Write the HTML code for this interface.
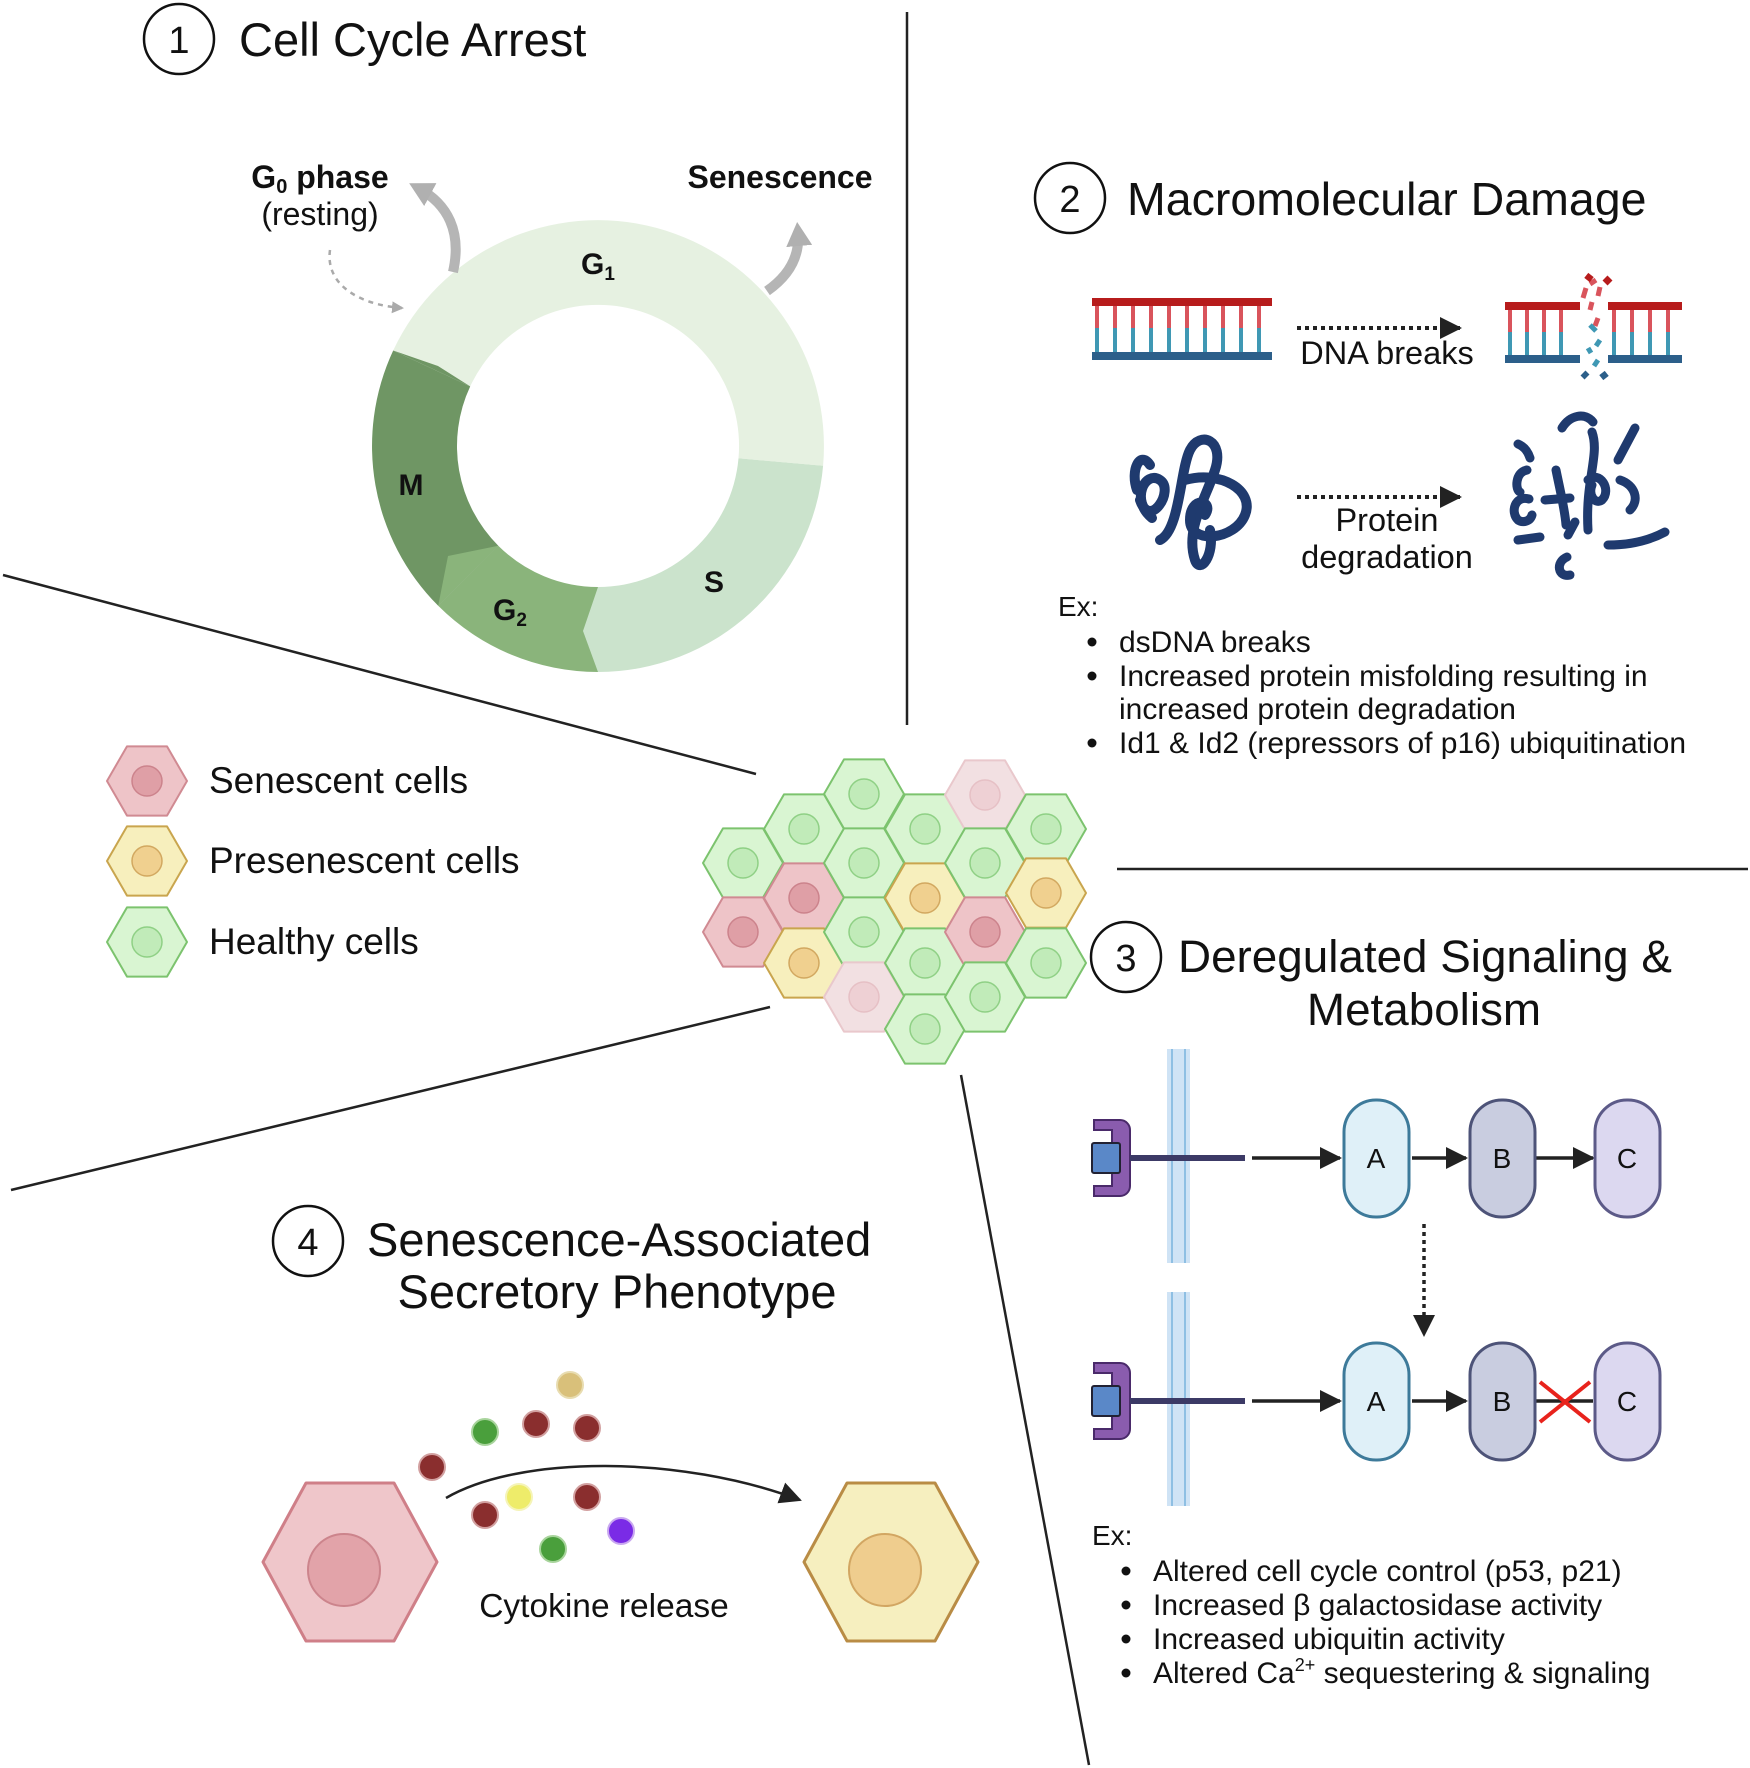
<!DOCTYPE html>
<html><head><meta charset="utf-8"><style>
html,body{margin:0;padding:0;background:#fff}
svg{display:block}
text{font-family:"Liberation Sans",Arial,sans-serif;fill:#111}
</style></head><body>
<svg width="1750" height="1768" viewBox="0 0 1750 1768" xmlns="http://www.w3.org/2000/svg">
<defs>
<polygon id="hx" points="-40,0 -20,-34.6 20,-34.6 40,0 20,34.6 -20,34.6" stroke-linejoin="round"/>
<g id="hg"><use href="#hx" fill="#d9f5d2" stroke="#7cc36e" stroke-width="2"/><circle r="15" fill="#c1ebb9" stroke="#8fd085" stroke-width="1.5"/></g>
<g id="hr"><use href="#hx" fill="#eec4c8" stroke="#d08a92" stroke-width="2"/><circle r="15" fill="#df9fa6" stroke="#cc838c" stroke-width="1.5"/></g>
<g id="hy"><use href="#hx" fill="#f7efbd" stroke="#c9a54e" stroke-width="2"/><circle r="15" fill="#f0d08f" stroke="#d2a860" stroke-width="1.5"/></g>
<g id="hf"><use href="#hx" fill="#f2e0e2" stroke="#e9c8cc" stroke-width="2"/><circle r="15" fill="#eed0d4" stroke="#e6c0c5" stroke-width="1.5"/></g>
<marker id="ab" markerWidth="22" markerHeight="22" refX="20" refY="11" orient="auto" markerUnits="userSpaceOnUse"><path d="M0,0 L22,11 L0,22z" fill="#222"/></marker>
<marker id="ag" markerWidth="26" markerHeight="26" refX="14" refY="13" orient="auto" markerUnits="userSpaceOnUse"><path d="M0,0 L24,13 L0,26z" fill="#b0b0b0"/></marker>
<marker id="ag2" markerWidth="12" markerHeight="12" refX="10" refY="6" orient="auto" markerUnits="userSpaceOnUse"><path d="M0,0 L12,6 L0,12z" fill="#aaa"/></marker>
</defs>

<g stroke="#222" stroke-width="2.5" fill="none">
<line x1="907" y1="12" x2="907" y2="725"/>
<line x1="3" y1="575" x2="756" y2="774"/>
<line x1="11" y1="1190" x2="770" y2="1007"/>
<line x1="961" y1="1075" x2="1089" y2="1765"/>
<line x1="1117" y1="869" x2="1748" y2="869"/>
</g>

<!-- Section 1 -->
<circle cx="179" cy="39" r="35" fill="none" stroke="#111" stroke-width="2.5"/>
<text x="179" y="53" font-size="38" text-anchor="middle">1</text>
<text x="239" y="56" font-size="47">Cell Cycle Arrest</text>

<g transform="translate(598,446)">
<path d="M-204.8,-95.5 A226,226 0 0 1 225.1,19.7 L140.5,12.3 A141,141 0 0 0 -127.8,-59.6 Z" fill="#e6f1e1"/>
<path d="M225.1,19.7 A226,226 0 0 1 0,226 L0,141 A141,141 0 0 0 140.5,12.3 Z" fill="#cbe3cc"/>
<path d="M0,226 A226,226 0 0 1 -159.8,159.8 L-99.7,99.7 A141,141 0 0 0 0,141 Z" fill="#8ab47b"/>
<path d="M-159.8,159.8 A226,226 0 0 1 -204.8,-95.5 L-127.8,-59.6 A141,141 0 0 0 -99.7,99.7 Z" fill="#6f9664"/>
<path d="M140.5,12.3 L190,0 L225.1,19.7 Z" fill="#e6f1e1"/>
<path d="M0,141 L-15,185 L0,226 Z" fill="#cbe3cc"/>
<path d="M-99.7,99.7 L-150,110 L-159.8,159.8 Z" fill="#8ab47b"/>
<path d="M-127.8,-59.6 L-160,-80 L-204.8,-95.5 Z" fill="#6f9664"/>
</g>
<text x="598" y="274" font-size="30" font-weight="bold" text-anchor="middle">G<tspan font-size="19" dy="6">1</tspan></text>
<text x="714" y="592" font-size="30" font-weight="bold" text-anchor="middle">S</text>
<text x="510" y="620" font-size="30" font-weight="bold" text-anchor="middle">G<tspan font-size="19" dy="6">2</tspan></text>
<text x="411" y="495" font-size="30" font-weight="bold" text-anchor="middle">M</text>

<text x="320" y="188" font-size="32" font-weight="bold" text-anchor="middle">G<tspan font-size="20" dy="5">0</tspan><tspan dy="-5"> phase</tspan></text>
<text x="320" y="225" font-size="32" text-anchor="middle">(resting)</text>
<text x="780" y="188" font-size="32" font-weight="bold" text-anchor="middle">Senescence</text>
<path d="M453,272 C462,232 448,204 418,188" fill="none" stroke="#b5b5b5" stroke-width="10" marker-end="url(#ag)"/>
<path d="M767,291 C790,275 800,255 798,232" fill="none" stroke="#b5b5b5" stroke-width="10" marker-end="url(#ag)"/>
<path d="M330,250 C325,285 360,305 402,308" fill="none" stroke="#aaa" stroke-width="2.5" stroke-dasharray="5,5" marker-end="url(#ag2)"/>

<!-- Legend -->
<use href="#hr" x="147" y="781"/>
<use href="#hy" x="147" y="861"/>
<use href="#hg" x="147" y="942"/>
<text x="209" y="793" font-size="37">Senescent cells</text>
<text x="209" y="873" font-size="37">Presenescent cells</text>
<text x="209" y="954" font-size="37">Healthy cells</text>

<!-- honeycomb -->
<use href="#hg" x="743" y="863"/><use href="#hr" x="743" y="932"/>
<use href="#hg" x="804" y="829"/><use href="#hr" x="804" y="898"/><use href="#hy" x="804" y="963"/>
<use href="#hg" x="864" y="794"/><use href="#hg" x="864" y="863"/><use href="#hg" x="864" y="932"/><use href="#hf" x="864" y="997"/>
<use href="#hg" x="925" y="829"/><use href="#hy" x="925" y="898"/><use href="#hg" x="925" y="963"/><use href="#hg" x="925" y="1029"/>
<use href="#hf" x="985" y="795"/><use href="#hg" x="985" y="863"/><use href="#hr" x="985" y="932"/><use href="#hg" x="985" y="997"/>
<use href="#hg" x="1046" y="829"/><use href="#hy" x="1046" y="893"/><use href="#hg" x="1046" y="963"/>

<!-- Section 2 -->
<circle cx="1070" cy="198" r="35" fill="none" stroke="#111" stroke-width="2.5"/>
<text x="1070" y="212" font-size="38" text-anchor="middle">2</text>
<text x="1127" y="215" font-size="46.5">Macromolecular Damage</text>
<g>
<rect x="1092" y="298" width="180" height="8" fill="#b71c1c"/>
<rect x="1092" y="352" width="180" height="8" fill="#2c5f8a"/>
<g stroke-width="4">
<path d="M1097,306v22M1115,306v22M1133,306v22M1151,306v22M1169,306v22M1187,306v22M1205,306v22M1223,306v22M1241,306v22M1259,306v22" stroke="#d9545c"/>
<path d="M1097,328v24M1115,328v24M1133,328v24M1151,328v24M1169,328v24M1187,328v24M1205,328v24M1223,328v24M1241,328v24M1259,328v24" stroke="#3f98b4"/>
</g>
</g>
<line x1="1297" y1="328" x2="1460" y2="328" stroke="#222" stroke-width="4" stroke-dasharray="4,4" marker-end="url(#ab)"/>
<text x="1387" y="364" font-size="32.5" text-anchor="middle">DNA breaks</text>
<g>
<rect x="1505" y="302" width="75" height="8" fill="#b71c1c"/><rect x="1608" y="302" width="74" height="8" fill="#b71c1c"/>
<rect x="1505" y="355" width="75" height="8" fill="#2c5f8a"/><rect x="1608" y="355" width="74" height="8" fill="#2c5f8a"/>
<g stroke-width="4">
<path d="M1510,310v22M1527,310v22M1544,310v22M1561,310v22M1614,310v22M1632,310v22M1650,310v22M1668,310v22" stroke="#d9545c"/>
<path d="M1510,332v23M1527,332v23M1544,332v23M1561,332v23M1614,332v23M1632,332v23M1650,332v23M1668,332v23" stroke="#3f98b4"/>
</g>
<g stroke-width="5">
<path d="M1583,298l3,-10M1590,284l6,-4M1598,296l2,-9M1590,310l2,-8M1598,318l-3,8" stroke="#d9545c"/>
<path d="M1587,280l4,-5M1605,278l5,5" stroke="#b71c1c" stroke-width="7"/>
<path d="M1590,325l6,6M1600,340l-4,6M1588,348l3,5M1598,360l-4,6" stroke="#3f98b4"/>
<path d="M1583,373l4,4M1602,373l4,5" stroke="#2c5f8a" stroke-width="7"/>
</g>
</g>
<g fill="none" stroke="#1f3a6e" stroke-width="10" stroke-linecap="round">
<path d="M1152,518 C1130,500 1145,470 1160,480 C1175,490 1150,530 1140,500"/>
<path d="M1160,540 C1180,530 1180,470 1190,450 C1200,430 1225,440 1215,470 C1205,500 1185,530 1195,560 C1200,575 1215,555 1210,530"/>
<path d="M1185,480 C1220,470 1255,490 1245,515 C1235,540 1190,545 1190,520 C1190,495 1215,500 1205,515"/>
<path d="M1137,490 C1130,470 1140,450 1150,465"/>
</g>
<line x1="1297" y1="497" x2="1460" y2="497" stroke="#222" stroke-width="4" stroke-dasharray="4,4" marker-end="url(#ab)"/>
<text x="1387" y="531" font-size="32.5" text-anchor="middle">Protein</text>
<text x="1387" y="568" font-size="32.5" text-anchor="middle">degradation</text>
<g fill="none" stroke="#1f3a6e" stroke-width="9" stroke-linecap="round">
<path d="M1562,428 C1570,415 1585,412 1593,422"/>
<path d="M1518,444 C1525,447 1528,452 1530,458"/>
<path d="M1527,470 C1515,472 1515,490 1520,492"/>
<path d="M1529,499 C1515,495 1510,512 1518,520 C1522,523 1530,522 1532,515"/>
<path d="M1556,470 C1560,490 1565,510 1566,525"/>
<path d="M1545,500 L1570,498"/>
<path d="M1592,432 C1600,455 1585,480 1588,530 M1588,480 C1600,470 1612,490 1602,500 C1595,505 1588,495 1592,485"/>
<path d="M1635,428 L1618,460"/>
<path d="M1620,480 C1635,485 1640,500 1630,510"/>
<path d="M1608,545 C1630,545 1650,540 1665,532"/>
<path d="M1518,540 L1540,537"/>
<path d="M1575,522 L1568,535"/>
<path d="M1567,557 C1555,562 1558,578 1570,575"/>
</g>
<text x="1058" y="616" font-size="28">Ex:</text>
<g font-size="30">
<text x="1119" y="652">dsDNA breaks</text>
<text x="1119" y="686">Increased protein misfolding resulting in</text>
<text x="1119" y="719">increased protein degradation</text>
<text x="1119" y="753">Id1 &amp; Id2 (repressors of p16) ubiquitination</text>
</g>
<g fill="#111"><circle cx="1092" cy="642" r="4.5"/><circle cx="1092" cy="676" r="4.5"/><circle cx="1092" cy="743" r="4.5"/></g>

<!-- Section 3 -->
<circle cx="1126" cy="957" r="35" fill="none" stroke="#111" stroke-width="2.5"/>
<text x="1126" y="971" font-size="38" text-anchor="middle">3</text>
<text x="1178" y="972" font-size="45.8">Deregulated Signaling &amp;</text>
<text x="1424" y="1025" font-size="45.8" text-anchor="middle">Metabolism</text>

<g>
<rect x="1167" y="1049" width="23" height="214" fill="#cfe3f5"/>
<rect x="1167" y="1292" width="23" height="214" fill="#cfe3f5"/>
<path d="M1172,1049v214M1185,1049v214M1172,1292v214M1185,1292v214" stroke="#8ebfe3" stroke-width="2"/>
</g>
<g id="rec">
<path d="M1094,1120 h26 a10,10 0 0 1 10,10 v56 a10,10 0 0 1 -10,10 h-26 v-10 h18 v-56 h-18 z" fill="#8a5cae" stroke="#4a2a6a" stroke-width="2"/>
<rect x="1092" y="1143" width="28" height="30" rx="2" fill="#5a88c8" stroke="#223" stroke-width="2"/>
<line x1="1130" y1="1158" x2="1245" y2="1158" stroke="#3c3a66" stroke-width="6"/>
</g>
<use href="#rec" y="243"/>
<g stroke="#222" stroke-width="3.5">
<line x1="1252" y1="1158" x2="1340" y2="1158" marker-end="url(#ab)"/>
<line x1="1412" y1="1158" x2="1466" y2="1158" marker-end="url(#ab)"/>
<line x1="1536" y1="1158" x2="1593" y2="1158" marker-end="url(#ab)"/>
<line x1="1252" y1="1401" x2="1340" y2="1401" marker-end="url(#ab)"/>
<line x1="1412" y1="1401" x2="1466" y2="1401" marker-end="url(#ab)"/>
<line x1="1536" y1="1401" x2="1593" y2="1401"/>
<line x1="1424" y1="1224" x2="1424" y2="1335" stroke-dasharray="4,4" marker-end="url(#ab)"/>
</g>
<g stroke-width="3">
<rect x="1344" y="1100" width="65" height="117" rx="32" fill="#dff0f8" stroke="#3d7a9a"/>
<rect x="1470" y="1100" width="65" height="117" rx="32" fill="#c9cde0" stroke="#4d5378"/>
<rect x="1595" y="1100" width="65" height="117" rx="32" fill="#dcd8f0" stroke="#5c5a88"/>
<rect x="1344" y="1343" width="65" height="117" rx="32" fill="#dff0f8" stroke="#3d7a9a"/>
<rect x="1470" y="1343" width="65" height="117" rx="32" fill="#c9cde0" stroke="#4d5378"/>
<rect x="1595" y="1343" width="65" height="117" rx="32" fill="#dcd8f0" stroke="#5c5a88"/>
</g>
<g font-size="28" text-anchor="middle">
<text x="1376" y="1168">A</text><text x="1502" y="1168">B</text><text x="1627" y="1168">C</text>
<text x="1376" y="1411">A</text><text x="1502" y="1411">B</text><text x="1627" y="1411">C</text>
</g>
<path d="M1540,1382 L1590,1422 M1540,1422 L1590,1382" stroke="#e8231c" stroke-width="4"/>
<text x="1092" y="1545" font-size="28">Ex:</text>
<g font-size="30">
<text x="1153" y="1581">Altered cell cycle control (p53, p21)</text>
<text x="1153" y="1615">Increased β galactosidase activity</text>
<text x="1153" y="1649">Increased ubiquitin activity</text>
<text x="1153" y="1683">Altered Ca<tspan font-size="18" dy="-12">2+</tspan><tspan dy="12"> sequestering &amp; signaling</tspan></text>
</g>
<g fill="#111"><circle cx="1126" cy="1571" r="4.5"/><circle cx="1126" cy="1605" r="4.5"/><circle cx="1126" cy="1639" r="4.5"/><circle cx="1126" cy="1673" r="4.5"/></g>

<!-- Section 4 -->
<circle cx="308" cy="1241" r="35" fill="none" stroke="#111" stroke-width="2.5"/>
<text x="308" y="1255" font-size="38" text-anchor="middle">4</text>
<text x="367" y="1256" font-size="47">Senescence-Associated</text>
<text x="617" y="1308" font-size="47" text-anchor="middle">Secretory Phenotype</text>

<g stroke-linejoin="round" stroke-width="3">
<polygon points="263,1562 306,1483 394,1483 437,1562 394,1641 306,1641" fill="#efc6ca" stroke="#cf7f88"/>
<circle cx="344" cy="1570" r="36" fill="#e2a3a9" stroke="#cc848c" stroke-width="2"/>
<polygon points="804,1562 847,1483 935,1483 978,1562 935,1641 847,1641" fill="#f6efbf" stroke="#b98c45"/>
<circle cx="885" cy="1570" r="36" fill="#efcd8e" stroke="#d2a662" stroke-width="2"/>
</g>
<g stroke-width="2">
<circle cx="570" cy="1385" r="13" fill="#d9c07a" stroke="#e8dcb0"/>
<circle cx="485" cy="1432" r="13" fill="#4a9f3c" stroke="#a8d49c"/>
<circle cx="536" cy="1424" r="13" fill="#8a2e2e" stroke="#d2a0a0"/>
<circle cx="587" cy="1428" r="13" fill="#8a2e2e" stroke="#d2a0a0"/>
<circle cx="432" cy="1467" r="13" fill="#8a2e2e" stroke="#d2a0a0"/>
<circle cx="519" cy="1497" r="13" fill="#eeec6a" stroke="#f5f4b8"/>
<circle cx="485" cy="1515" r="13" fill="#8a2e2e" stroke="#d2a0a0"/>
<circle cx="587" cy="1497" r="13" fill="#8a2e2e" stroke="#d2a0a0"/>
<circle cx="553" cy="1549" r="13" fill="#4a9f3c" stroke="#a8d49c"/>
<circle cx="621" cy="1531" r="13" fill="#7a2be6" stroke="#c9a8f0"/>
</g>
<path d="M446,1498 C520,1455 680,1455 800,1500" fill="none" stroke="#222" stroke-width="2.5" marker-end="url(#ab)"/>
<text x="604" y="1617" font-size="33.5" text-anchor="middle">Cytokine release</text>
</svg>
</body></html>
